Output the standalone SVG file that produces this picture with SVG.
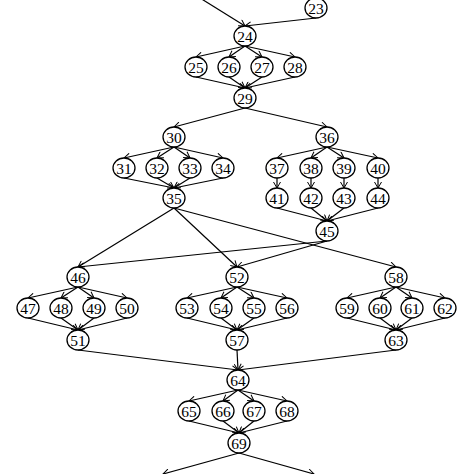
<svg xmlns="http://www.w3.org/2000/svg" width="474" height="474" viewBox="0 0 474 474">
<style>
.e{stroke:#000;stroke-width:1.2;fill:none;marker-end:url(#a)}
.n ellipse{fill:#fff;stroke:#000;stroke-width:1.3}
.n text{font-family:"Liberation Serif","DejaVu Serif",serif;font-size:15.5px;text-anchor:middle;fill:#000}
</style>
<defs>
<marker id="a" viewBox="-7 -4 8 8" refX="0" refY="0" markerWidth="8" markerHeight="8" orient="auto" markerUnits="userSpaceOnUse">
<path d="M-6,-3.5 L0,0 L-6,3.5" fill="none" stroke="#000" stroke-width="1"/>
</marker>
</defs>
<rect width="474" height="474" fill="#fff"/>
<g id="connectors">
<path class="e" d="M200,-2 L245,26"/>
<path class="e" d="M316,18 L245,26"/>
<path class="e" d="M245,46 L196,57"/>
<path class="e" d="M245,46 L229,57"/>
<path class="e" d="M245,46 L262,57"/>
<path class="e" d="M245,46 L295,57"/>
<path class="e" d="M196,77 L245,88"/>
<path class="e" d="M229,77 L245,88"/>
<path class="e" d="M262,77 L245,88"/>
<path class="e" d="M295,77 L245,88"/>
<path class="e" d="M245,108 L174,127"/>
<path class="e" d="M245,108 L327,127"/>
<path class="e" d="M174,147 L124,158"/>
<path class="e" d="M174,147 L157,158"/>
<path class="e" d="M174,147 L190,158"/>
<path class="e" d="M174,147 L223,158"/>
<path class="e" d="M124,178 L174,188"/>
<path class="e" d="M157,178 L174,188"/>
<path class="e" d="M190,178 L174,188"/>
<path class="e" d="M223,178 L174,188"/>
<path class="e" d="M327,147 L277,158"/>
<path class="e" d="M327,147 L311,158"/>
<path class="e" d="M327,147 L344,158"/>
<path class="e" d="M327,147 L378,158"/>
<path class="e" d="M277,178 L277,188"/>
<path class="e" d="M311,178 L311,188"/>
<path class="e" d="M344,178 L344,188"/>
<path class="e" d="M378,178 L378,188"/>
<path class="e" d="M277,208 L327,221"/>
<path class="e" d="M311,208 L327,221"/>
<path class="e" d="M344,208 L327,221"/>
<path class="e" d="M378,208 L327,221"/>
<path class="e" d="M174,208 L78,267"/>
<path class="e" d="M174,208 L237,267"/>
<path class="e" d="M174,208 L396,267"/>
<path class="e" d="M327,241 L78,267"/>
<path class="e" d="M327,241 L237,267"/>
<path class="e" d="M78,287 L28,298"/>
<path class="e" d="M78,287 L61,298"/>
<path class="e" d="M78,287 L94,298"/>
<path class="e" d="M78,287 L127,298"/>
<path class="e" d="M28,318 L78,330"/>
<path class="e" d="M61,318 L78,330"/>
<path class="e" d="M94,318 L78,330"/>
<path class="e" d="M127,318 L78,330"/>
<path class="e" d="M237,287 L187,298"/>
<path class="e" d="M237,287 L221,298"/>
<path class="e" d="M237,287 L254,298"/>
<path class="e" d="M237,287 L287,298"/>
<path class="e" d="M187,318 L237,330"/>
<path class="e" d="M221,318 L237,330"/>
<path class="e" d="M254,318 L237,330"/>
<path class="e" d="M287,318 L237,330"/>
<path class="e" d="M396,287 L347,298"/>
<path class="e" d="M396,287 L380,298"/>
<path class="e" d="M396,287 L412,298"/>
<path class="e" d="M396,287 L445,298"/>
<path class="e" d="M347,318 L396,330"/>
<path class="e" d="M380,318 L396,330"/>
<path class="e" d="M412,318 L396,330"/>
<path class="e" d="M445,318 L396,330"/>
<path class="e" d="M78,350 L238,370"/>
<path class="e" d="M237,350 L238,370"/>
<path class="e" d="M396,350 L238,370"/>
<path class="e" d="M238,390 L189,401"/>
<path class="e" d="M238,390 L223,401"/>
<path class="e" d="M238,390 L254,401"/>
<path class="e" d="M238,390 L287,401"/>
<path class="e" d="M189,421 L239,433"/>
<path class="e" d="M223,421 L239,433"/>
<path class="e" d="M254,421 L239,433"/>
<path class="e" d="M287,421 L239,433"/>
<path class="e" d="M239,453 L163,474"/>
<path class="e" d="M239,453 L314,474"/>
</g>
<g id="n23" class="n"><ellipse cx="316" cy="8" rx="11" ry="10"/><text x="316" y="13.5">23</text></g>
<g id="n24" class="n"><ellipse cx="245" cy="36" rx="11" ry="10"/><text x="245" y="41.5">24</text></g>
<g id="n25" class="n"><ellipse cx="196" cy="67" rx="11" ry="10"/><text x="196" y="72.5">25</text></g>
<g id="n26" class="n"><ellipse cx="229" cy="67" rx="11" ry="10"/><text x="229" y="72.5">26</text></g>
<g id="n27" class="n"><ellipse cx="262" cy="67" rx="11" ry="10"/><text x="262" y="72.5">27</text></g>
<g id="n28" class="n"><ellipse cx="295" cy="67" rx="11" ry="10"/><text x="295" y="72.5">28</text></g>
<g id="n29" class="n"><ellipse cx="245" cy="98" rx="11" ry="10"/><text x="245" y="103.5">29</text></g>
<g id="n30" class="n"><ellipse cx="174" cy="137" rx="11" ry="10"/><text x="174" y="142.5">30</text></g>
<g id="n31" class="n"><ellipse cx="124" cy="168" rx="11" ry="10"/><text x="124" y="173.5">31</text></g>
<g id="n32" class="n"><ellipse cx="157" cy="168" rx="11" ry="10"/><text x="157" y="173.5">32</text></g>
<g id="n33" class="n"><ellipse cx="190" cy="168" rx="11" ry="10"/><text x="190" y="173.5">33</text></g>
<g id="n34" class="n"><ellipse cx="223" cy="168" rx="11" ry="10"/><text x="223" y="173.5">34</text></g>
<g id="n35" class="n"><ellipse cx="174" cy="198" rx="11" ry="10"/><text x="174" y="203.5">35</text></g>
<g id="n36" class="n"><ellipse cx="327" cy="137" rx="11" ry="10"/><text x="327" y="142.5">36</text></g>
<g id="n37" class="n"><ellipse cx="277" cy="168" rx="11" ry="10"/><text x="277" y="173.5">37</text></g>
<g id="n38" class="n"><ellipse cx="311" cy="168" rx="11" ry="10"/><text x="311" y="173.5">38</text></g>
<g id="n39" class="n"><ellipse cx="344" cy="168" rx="11" ry="10"/><text x="344" y="173.5">39</text></g>
<g id="n40" class="n"><ellipse cx="378" cy="168" rx="11" ry="10"/><text x="378" y="173.5">40</text></g>
<g id="n41" class="n"><ellipse cx="277" cy="198" rx="11" ry="10"/><text x="277" y="203.5">41</text></g>
<g id="n42" class="n"><ellipse cx="311" cy="198" rx="11" ry="10"/><text x="311" y="203.5">42</text></g>
<g id="n43" class="n"><ellipse cx="344" cy="198" rx="11" ry="10"/><text x="344" y="203.5">43</text></g>
<g id="n44" class="n"><ellipse cx="378" cy="198" rx="11" ry="10"/><text x="378" y="203.5">44</text></g>
<g id="n45" class="n"><ellipse cx="327" cy="231" rx="11" ry="10"/><text x="327" y="236.5">45</text></g>
<g id="n46" class="n"><ellipse cx="78" cy="277" rx="11" ry="10"/><text x="78" y="282.5">46</text></g>
<g id="n47" class="n"><ellipse cx="28" cy="308" rx="11" ry="10"/><text x="28" y="313.5">47</text></g>
<g id="n48" class="n"><ellipse cx="61" cy="308" rx="11" ry="10"/><text x="61" y="313.5">48</text></g>
<g id="n49" class="n"><ellipse cx="94" cy="308" rx="11" ry="10"/><text x="94" y="313.5">49</text></g>
<g id="n50" class="n"><ellipse cx="127" cy="308" rx="11" ry="10"/><text x="127" y="313.5">50</text></g>
<g id="n51" class="n"><ellipse cx="78" cy="340" rx="11" ry="10"/><text x="78" y="345.5">51</text></g>
<g id="n52" class="n"><ellipse cx="237" cy="277" rx="11" ry="10"/><text x="237" y="282.5">52</text></g>
<g id="n53" class="n"><ellipse cx="187" cy="308" rx="11" ry="10"/><text x="187" y="313.5">53</text></g>
<g id="n54" class="n"><ellipse cx="221" cy="308" rx="11" ry="10"/><text x="221" y="313.5">54</text></g>
<g id="n55" class="n"><ellipse cx="254" cy="308" rx="11" ry="10"/><text x="254" y="313.5">55</text></g>
<g id="n56" class="n"><ellipse cx="287" cy="308" rx="11" ry="10"/><text x="287" y="313.5">56</text></g>
<g id="n57" class="n"><ellipse cx="237" cy="340" rx="11" ry="10"/><text x="237" y="345.5">57</text></g>
<g id="n58" class="n"><ellipse cx="396" cy="277" rx="11" ry="10"/><text x="396" y="282.5">58</text></g>
<g id="n59" class="n"><ellipse cx="347" cy="308" rx="11" ry="10"/><text x="347" y="313.5">59</text></g>
<g id="n60" class="n"><ellipse cx="380" cy="308" rx="11" ry="10"/><text x="380" y="313.5">60</text></g>
<g id="n61" class="n"><ellipse cx="412" cy="308" rx="11" ry="10"/><text x="412" y="313.5">61</text></g>
<g id="n62" class="n"><ellipse cx="445" cy="308" rx="11" ry="10"/><text x="445" y="313.5">62</text></g>
<g id="n63" class="n"><ellipse cx="396" cy="340" rx="11" ry="10"/><text x="396" y="345.5">63</text></g>
<g id="n64" class="n"><ellipse cx="238" cy="380" rx="11" ry="10"/><text x="238" y="385.5">64</text></g>
<g id="n65" class="n"><ellipse cx="189" cy="411" rx="11" ry="10"/><text x="189" y="416.5">65</text></g>
<g id="n66" class="n"><ellipse cx="223" cy="411" rx="11" ry="10"/><text x="223" y="416.5">66</text></g>
<g id="n67" class="n"><ellipse cx="254" cy="411" rx="11" ry="10"/><text x="254" y="416.5">67</text></g>
<g id="n68" class="n"><ellipse cx="287" cy="411" rx="11" ry="10"/><text x="287" y="416.5">68</text></g>
<g id="n69" class="n"><ellipse cx="239" cy="443" rx="11" ry="10"/><text x="239" y="448.5">69</text></g>
</svg>
